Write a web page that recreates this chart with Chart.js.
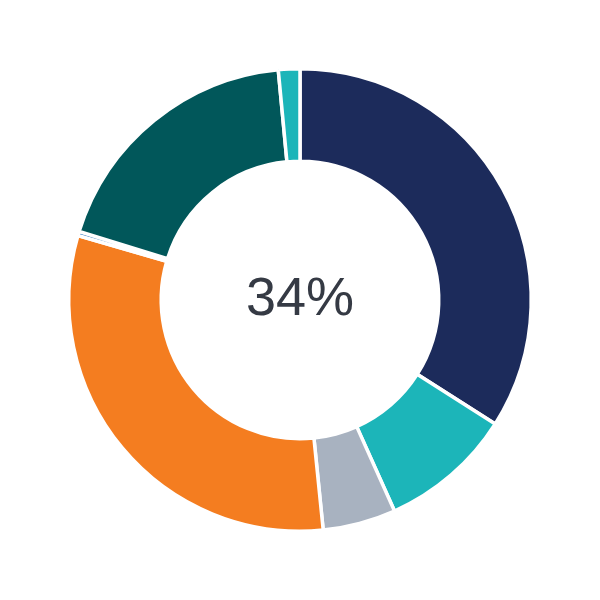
<!DOCTYPE html>
<html>
<head>
<meta charset="utf-8">
<script src="https://cdn.jsdelivr.net/npm/chart.js@4"></script>
<style>
html,body{margin:0;padding:0;background:#fff;}
#wrap{position:relative;width:600px;height:600px;}
#center{position:absolute;left:0;top:0;width:600px;height:592px;display:flex;align-items:center;justify-content:center;font-family:"Liberation Sans",Arial,sans-serif;font-size:54px;color:#353a44;pointer-events:none;}
</style>
</head>
<body>
<div id="wrap">
<canvas id="c" width="600" height="600"></canvas>
<div id="center">34%</div>
</div>
<script>
const categories = ["A","B","C","D","E","F","G"];
const values = [34, 9.3, 5.1, 31.1, 0.3, 18.7, 1.5];
const colors = ["#1c2b5b","#1cb5b9","#a8b2c0","#f47d20","#3d80c6","#01575a","#1cb5b9"];

new Chart(document.getElementById('c'), {
  type: 'doughnut',
  data: {
    labels: categories,
    datasets: [{
      data: values,
      backgroundColor: colors,
      borderColor: '#ffffff',
      borderWidth: 3.5,
      hoverOffset: 0
    }]
  },
  options: {
    responsive: false,
    animation: false,
    cutout: '60%',
    layout: { padding: 67 },
    plugins: { legend: { display: false }, tooltip: { enabled: false } }
  }
});
</script>
</body>
</html>
